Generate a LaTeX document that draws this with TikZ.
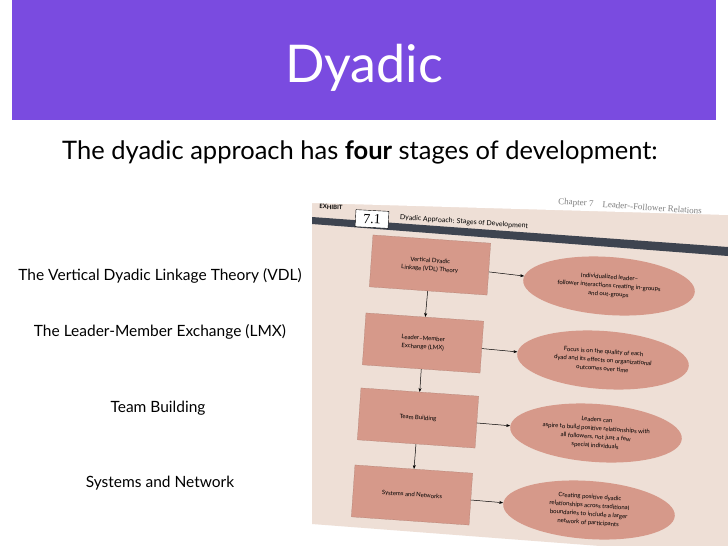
\documentclass[tikz,border=0pt]{standalone}
\usepackage{fontspec}
\setmainfont{Lato}
\newfontfamily\serifx{Liberation Serif}
\usetikzlibrary{shapes.geometric,arrows.meta}
\definecolor{barpurple}{HTML}{7A4BE0}
\definecolor{paper}{HTML}{EEDFD6}
\definecolor{boxfill}{HTML}{D6998A}
\definecolor{stripe}{HTML}{3E4450}
\tikzset{
  leftlab/.style={font=\fontsize{15.5}{18}\selectfont, anchor=center},
  stagebox/.style={draw=boxfill!80!black, line width=0.2pt, fill=boxfill, minimum width=118pt, minimum height=52pt, align=center, font=\fontsize{6}{8.5}\selectfont, rotate=-4},
  outell/.style={ellipse, fill=boxfill, minimum width=172pt, minimum height=58pt, inner sep=0pt, align=center, font=\fontsize{6}{8.6}\selectfont, rotate=-4},
  flow/.style={-{Stealth[length=4pt]}, line width=0.5pt}
}
\begin{document}
\begin{tikzpicture}[x=1pt,y=-1pt]
\useasboundingbox (0,0) rectangle (728,546);
\fill[white] (0,0) rectangle (728,546);
% title bar
\fill[barpurple] (12,0) rectangle (716,120);
\node[text=white, font=\fontsize{52}{60}\selectfont] (title) at (364,68) {Dyadic};
\node[font=\fontsize{25.5}{30}\selectfont] (sub) at (360,152) {The dyadic approach has \textbf{four} stages of development:};
% left labels
\node[leftlab] (l1) at (160,276) {The Vertical Dyadic Linkage Theory (VDL)};
\node[leftlab] (l2) at (160,332) {The Leader-Member Exchange (LMX)};
\node[leftlab] (l3) at (158,408) {Team Building};
\node[leftlab] (l4) at (160,483) {Systems and Network};
% exhibit page
\fill[paper] (312,198) -- (728,194) -- (728,546) -- (600,546) -- (312,524) -- cycle;
\fill[white] (312,194) -- (728,194) -- (728,215) -- (312,203) -- cycle;
\fill[stripe] (312,217) -- (728,247) -- (728,256) -- (312,224) -- cycle;
\node[font=\bfseries\fontsize{6}{6}\selectfont, rotate=-2] (exh) at (331,207) {EXHIBIT};
\node[draw, fill=white, line width=0.4pt, font=\serifx\fontsize{14}{14}\selectfont, minimum width=33pt, minimum height=17pt, inner sep=0pt, rotate=-3] (num) at (372,219) {7.1};
\node[font=\fontsize{7}{7}\selectfont, rotate=-4] (ehead) at (464,222) {Dyadic Approach: Stages of Development};
\node[text=gray, font=\serifx\fontsize{9}{9}\selectfont, rotate=-4] (chap) at (630,207) {Chapter 7\quad Leader--Follower Relations};
% stages
\node[stagebox] (b1) at (430,265) {Vertical Dyadic\\Linkage (VDL) Theory};
\node[stagebox] (b2) at (423,343) {Leader--Member\\Exchange (LMX)};
\node[stagebox] (b3) at (418,418) {Team Building};
\node[stagebox] (b4) at (412,495) {Systems and Networks};
\node[outell] (e1) at (609,286) {Individualized leader--\\follower interactions creating in-groups\\and out-groups};
\node[outell] (e2) at (603,360) {Focus is on the quality of each\\dyad and its effects on organizational\\outcomes over time};
\node[outell] (e3) at (596,433) {Leaders can\\aspire to build positive relationships with\\all followers, not just a few\\special individuals};
\node[outell] (e4) at (589,510) {Creating positive dyadic\\relationships across traditional\\boundaries to include a larger\\network of participants};
\draw[flow] (b1) -- (b2);
\draw[flow] (b2) -- (b3);
\draw[flow] (b3) -- (b4);
\draw[flow] (b1) -- (e1);
\draw[flow] (b2) -- (e2);
\draw[flow] (b3) -- (e3);
\draw[flow] (b4) -- (e4);
\end{tikzpicture}
\end{document}
